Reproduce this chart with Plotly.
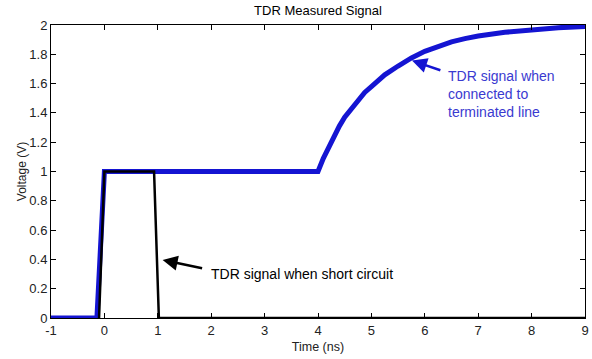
import plotly.graph_objects as go

# Terminated line (blue)
t_term = [-1.0, -0.14, 0.0, 1.0, 2.0, 3.0, 4.0, 4.1, 4.2, 4.3, 4.4, 4.5, 4.625, 4.75,
          4.875, 5.0, 5.25, 5.5, 5.75, 6.0, 6.25, 6.5, 6.75, 7.0, 7.5, 8.0, 8.5, 9.0]
v_term = [0.0, 0.0, 1.0, 1.0, 1.0, 1.0, 1.0, 1.09, 1.17, 1.24, 1.31, 1.37, 1.43, 1.49,
          1.54, 1.58, 1.66, 1.72, 1.775, 1.82, 1.855, 1.885, 1.907, 1.925, 1.95, 1.97,
          1.982, 1.99]

# Short circuit (black)
t_short = [-0.1, 0.0, 0.93, 1.02, 9.0]
v_short = [0.0, 1.0, 1.0, 0.0, 0.0]

x_ticks = [-1, 0, 1, 2, 3, 4, 5, 6, 7, 8, 9]
y_ticks = [0, 0.2, 0.4, 0.6, 0.8, 1, 1.2, 1.4, 1.6, 1.8, 2]

blue = "#1414d2"
font = "Liberation Sans, Arial, sans-serif"

fig = go.Figure()
fig.add_trace(go.Scatter(x=t_term, y=v_term, mode="lines",
                         line=dict(color=blue, width=5), hoverinfo="skip"))
fig.add_trace(go.Scatter(x=t_short, y=v_short, mode="lines",
                         line=dict(color="black", width=2.5), hoverinfo="skip"))

# Arrows
fig.add_annotation(x=5.76, y=1.757, ax=6.32, ay=1.688, xref="x", yref="y",
                   axref="x", ayref="y", text="", showarrow=True,
                   arrowhead=2, arrowsize=1.2, arrowwidth=2.5, arrowcolor=blue,
                   standoff=0, startstandoff=0)
fig.add_annotation(x=1.09, y=0.396, ax=1.858, ay=0.337, xref="x", yref="y",
                   axref="x", ayref="y", text="", showarrow=True,
                   arrowhead=2, arrowsize=1.2, arrowwidth=2.5, arrowcolor="black",
                   standoff=0, startstandoff=0)

fig.add_annotation(x=6.40, y=1.531, xref="x", yref="y", showarrow=False,
                   xanchor="left", yanchor="middle", align="left",
                   text="TDR signal when<br>connected to<br>terminated line",
                   font=dict(family=font, size=14, color="#3a3ad0"))
fig.add_annotation(x=1.964, y=0.30, xref="x", yref="y", showarrow=False,
                   xanchor="left", yanchor="middle", align="left",
                   text="TDR signal when short circuit",
                   font=dict(family=font, size=14, color="black"))

axis_common = dict(showgrid=False, zeroline=False, showline=True, linecolor="black",
                   linewidth=1, mirror="ticks", ticks="inside", ticklen=5,
                   tickcolor="black", automargin=False, ticklabeloverflow="allow",
                   tickfont=dict(family=font, size=13, color="#222"))

fig.update_xaxes(range=[-1, 9], tickvals=x_ticks, ticktext=[str(v) for v in x_ticks],
                 title=dict(text="Time (ns)", font=dict(family=font, size=12.5, color="#222"),
                            standoff=5),
                 **axis_common)
fig.update_yaxes(range=[0, 2], tickvals=y_ticks, ticktext=[f"{v:g}" for v in y_ticks],
                 title=dict(text="Voltage (V)", font=dict(family=font, size=12, color="#222"),
                            standoff=0),
                 **axis_common)

fig.update_layout(width=592, height=359, showlegend=False,
                  margin=dict(l=51, r=7, t=25, b=41),
                  paper_bgcolor="white", plot_bgcolor="white",
                  title=dict(text="TDR Measured Signal", x=0.5, xanchor="center",
                             xref="paper", y=0.972, yanchor="middle",
                             font=dict(family=font, size=13, color="black")))

fig.write_html("out.html", config={"displayModeBar": False},
               post_script="document.body.style.margin='0';document.body.style.overflow='hidden';")
